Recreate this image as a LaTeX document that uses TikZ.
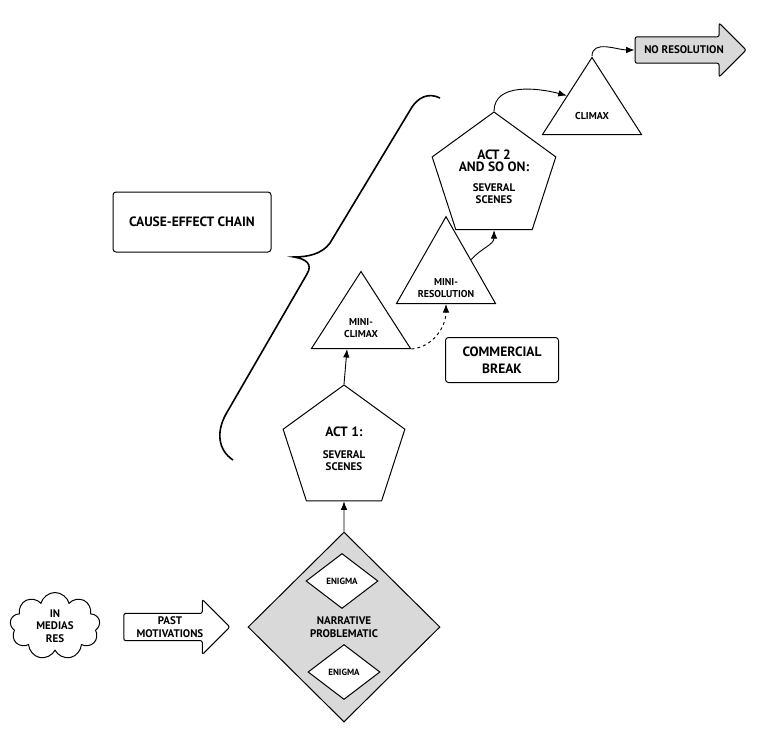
\documentclass[tikz,border=0pt]{standalone}
\usepackage{fontspec}
\setmainfont{PT Sans}
\usetikzlibrary{arrows.meta, shapes.geometric, shapes.symbols, shapes.arrows}
\definecolor{grisFondo}{RGB}{217,217,217}
\newcommand{\txtGrande}{\fontsize{13.5}{16.5}\bfseries\selectfont}
\newcommand{\txtMedio}{\fontsize{11}{12.5}\bfseries\selectfont}
\newcommand{\txtChico}{\fontsize{11}{12}\bfseries\selectfont}
\newcommand{\txtTri}{\fontsize{10}{11.5}\bfseries\selectfont}
\newcommand{\txtMini}{\fontsize{9}{10}\bfseries\selectfont}

\begin{document}
\begin{tikzpicture}[x=1pt, y=-1pt, line width=1pt,
    caja/.style={draw, rounded corners=3pt, align=center, inner sep=0pt},
    tri/.style={isosceles triangle, isosceles triangle stretches,
        shape border rotate=90, draw, fill=white, minimum width=99pt,
        minimum height=77pt, inner sep=0pt, align=center, font=\txtTri},
    penta/.style={regular polygon, regular polygon sides=5, draw,
        fill=white, inner sep=0pt, align=center},
    flecha/.style={single arrow, draw, rounded corners=2pt,
        single arrow head extend=13pt, align=center, inner xsep=1pt, font=\txtMedio},
    conector/.style={-{Latex[length=8.5pt, width=6.5pt]}, line width=0.9pt}]
    \useasboundingbox (0,0) rectangle (768,745);

    % PROBLEMATICA
    \node[diamond, draw, fill=grisFondo, minimum width=192pt,
        minimum height=190pt, inner sep=0pt, align=center, font=\txtMedio]
        (problema) at (344,627) {NARRATIVE\\PROBLEMATIC};
    \node[diamond, draw, fill=white, minimum width=72pt,
        minimum height=55pt, inner sep=0pt, font=\txtMini] (enigmaA) at (342,581) {ENIGMA};
    \node[diamond, draw, fill=white, minimum width=72pt,
        minimum height=55pt, inner sep=0pt, font=\txtMini] (enigmaB) at (344,672) {ENIGMA};

    % INICIO
    \node[cloud, draw, cloud puffs=9, aspect=1.3, minimum width=90pt,
        minimum height=67pt, inner sep=0pt, align=center, font=\txtMedio]
        (medias) at (55,626) {IN\\MEDIAS\\RES};
    \node[flecha, fill=white, inner ysep=2pt, minimum height=106pt, minimum width=55pt]
        (pasado) at (170,627) {PAST\\MOTIVATIONS};

    % ACTOS
    \node[penta, minimum size=128pt] (acto1) at (344,449)
        {\txtGrande ACT 1:\\[10pt]\txtChico SEVERAL\\\txtChico SCENES};
    \node[penta, minimum size=130pt] (acto2) at (494,177)
        {\txtGrande ACT 2\\\txtGrande AND SO ON:\\[8pt]\txtChico SEVERAL\\\txtChico SCENES};

    % CLIMAX Y RESOLUCIONES
    \node[tri, anchor=lower side] (miniclimax) at (361,349) {MINI-\\CLIMAX};
    \node[tri, anchor=lower side] (miniresol) at (446,304) {MINI-\\RESOLUTION};
    \node[tri, anchor=lower side] (climax) at (592,135) {CLIMAX};
    \node[flecha, fill=grisFondo, inner ysep=8pt, minimum height=111pt, minimum width=54pt]
        (final) at (684,50) {NO RESOLUTION};

    % CAJAS
    \node[caja, minimum width=158pt, minimum height=60pt, font=\txtGrande]
        (cadena) at (192,222) {CAUSE-EFFECT CHAIN};
    \node[caja, minimum width=113pt, minimum height=45pt, font=\txtGrande]
        (corte) at (502,360) {COMMERCIAL\\BREAK};

    % LLAVE
    \draw[line width=1.6pt] (440,98) .. controls (428,92) and (418,98) .. (412,107)
        -- (330,243) .. controls (322,254) and (308,257) .. (294,257)
        .. controls (306,259) and (313,264) .. (307,274)
        -- (226,414) .. controls (216,432) and (218,450) .. (233,460);

    % CONECTORES
    \draw[conector] (problema.north) -- (acto1.south);
    \draw[conector] (acto1.north) -- ([xshift=-14pt]miniclimax.lower side);
    \draw[conector, dashed] (miniclimax.right corner) to[out=5, in=-90] (miniresol.lower side);
    \draw[conector] (miniresol.right side) to[out=50, in=-90] (acto2.south);
    \draw[conector] (acto2.north) to[out=90, in=165] (climax.left side);
    \draw[conector] (climax.apex) to[out=90, in=180] (final.west);
\end{tikzpicture}
\end{document}
